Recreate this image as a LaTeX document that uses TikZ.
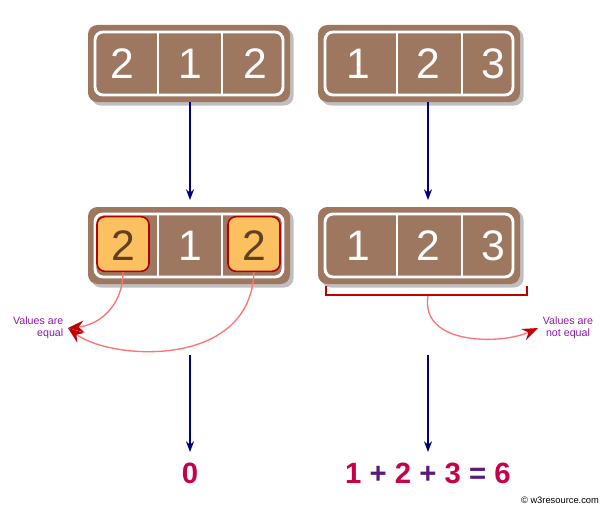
\documentclass[tikz,border=0pt]{standalone}
\usepackage{fontspec}
\setmainfont{Liberation Sans}
\usetikzlibrary{arrows.meta,shadows}
\definecolor{brn}{HTML}{9E7760}
\definecolor{hl}{HTML}{FBC060}
\definecolor{crim}{HTML}{C8004A}
\definecolor{pur}{HTML}{5A1A78}
\definecolor{labc}{HTML}{8A1AA8}
\tikzset{
 outer/.style={fill=brn,rounded corners=7pt,drop shadow},
 inner/.style={draw=white,line width=2.2pt,rounded corners=6pt},
 dig/.style={text=white,font=\fontsize{32}{32}\selectfont},
 hdig/.style={text=brown!50!black,font=\fontsize{32}{32}\selectfont},
 hbox/.style={fill=hl,draw=red!70!black,line width=1.2pt,rounded corners=6pt},
 flow/.style={draw=blue!50!black,line width=1.2pt,-{Stealth[length=8pt,width=6pt]}},
 rc/.style={draw=red!55,line width=1pt,-{Stealth[length=12pt,width=9pt,inset=4pt,color=red!75!black,fill=red!75!black]}},
 lab/.style={text=labc,font=\fontsize{8}{9}\selectfont},
 res/.style={font=\bfseries\fontsize{22}{22}\selectfont}
}
\begin{document}
\begin{tikzpicture}[x=0.75pt,y=-0.75pt]
\useasboundingbox (0,0) rectangle (610,510);
\foreach \x/\y in {88/25,318/25,88/207,318/207}{
 \path[outer] (\x,\y) rectangle ++(202,77);
 \path[inner] (\x+7,\y+7) rectangle ++(188,63);
}
\foreach \x/\y in {158/32,222/32,397/32,462/32,158/214,222/214,397/214,462/214}{
 \draw[white,line width=1pt] (\x,\y) -- (\x,\y+63);}
\node[dig] (t1) at (122,64) {2};
\node[dig] (t2) at (190,64) {1};
\node[dig] (t3) at (255,64) {2};
\node[dig] (u1) at (358,64) {1};
\node[dig] (u2) at (428,64) {2};
\node[dig] (u3) at (493,64) {3};
\node[hbox,minimum width=39pt,minimum height=41pt,inner sep=0pt] (h1) at (123,244) {};
\node[hbox,minimum width=39pt,minimum height=41pt,inner sep=0pt] (h2) at (254,244) {};
\node[hdig] (b1) at (123,246) {2};
\node[dig] (b2) at (190,246) {1};
\node[hdig] (b3) at (254,246) {2};
\node[dig] (c1) at (358,246) {1};
\node[dig] (c2) at (428,246) {2};
\node[dig] (c3) at (493,246) {3};
\coordinate (a1s) at (190,102); \coordinate (a1e) at (190,200);
\coordinate (a2s) at (428,102); \coordinate (a2e) at (428,200);
\coordinate (a3s) at (190,355); \coordinate (a3e) at (190,452);
\coordinate (a4s) at (428,355); \coordinate (a4e) at (428,452);
\draw[flow] (a1s)--(a1e); \draw[flow] (a2s)--(a2e);
\draw[flow] (a3s)--(a3e); \draw[flow] (a4s)--(a4e);
\draw[red!75!black,line width=2pt] (326,286) -- (326,295) -- (527,295) -- (527,286);
\coordinate (br) at (428,296);
\node[lab,anchor=east,align=right] (l1) at (68,328) {Values are\\equal};
\node[lab,align=center] (l2) at (568,328) {Values are\\not equal};
\draw[rc] (h1.south) .. controls (123,305) and (100,325) .. (l1.east);
\draw[rc] (h2.south) .. controls (250,370) and (110,360) .. (l1.east);
\draw[rc] (br) .. controls (420,345) and (500,345) .. (l2.west);
\node[res,text=crim] (z) at (190,473) {0};
\node[res] (s) at (428,473) {\textcolor{crim}{1} \textcolor{pur}{+} \textcolor{crim}{2} \textcolor{pur}{+} \textcolor{crim}{3} \textcolor{pur}{=} \textcolor{crim}{6}};
\node[font=\fontsize{7}{8}\selectfont] (w) at (560,500) {© w3resource.com};
\end{tikzpicture}
\end{document}
